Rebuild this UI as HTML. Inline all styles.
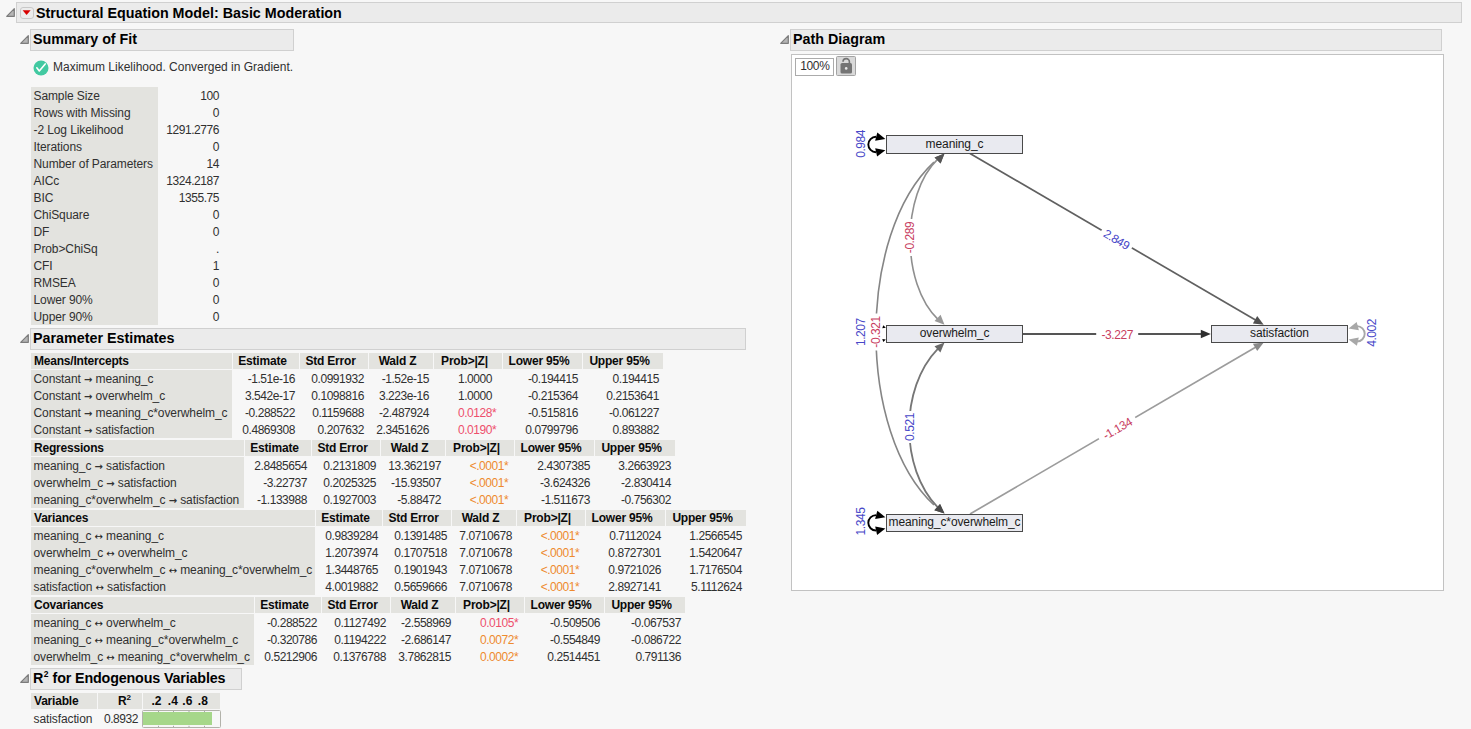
<!DOCTYPE html>
<html><head><meta charset="utf-8"><title>Structural Equation Model: Basic Moderation</title>
<style>
*{margin:0;padding:0;box-sizing:content-box}
html,body{width:1471px;height:729px;overflow:hidden;background:#f7f7f7}
body{position:relative;font-family:"Liberation Sans",Arial,sans-serif;color:#303030}
.r{position:absolute}
.t{position:absolute;font-size:12px;line-height:17px;white-space:nowrap;letter-spacing:-0.1px}
.n{letter-spacing:-0.45px}
.b{font-weight:bold;letter-spacing:-0.2px;color:#0a0a0a}
.ra{text-align:right}
.ca{text-align:center}
.h{position:absolute;font-size:14.3px;font-weight:bold;line-height:21px;white-space:nowrap;color:#000}
.ar{font-family:"DejaVu Sans",sans-serif;font-size:10px;font-weight:bold;position:relative;top:-0.5px;color:#333}
.da{font-weight:normal;color:#222}
.st{position:absolute;left:100%;letter-spacing:0}
.sup{font-size:8.5px;position:relative;top:-5.5px;margin:0 0.5px 0 0.5px}
.sup2{font-size:8px;position:relative;top:-5.5px}
.dl{font-size:12px;letter-spacing:-0.45px;font-family:"Liberation Sans",Arial,sans-serif}
.nl{font-size:12px;letter-spacing:-0.1px;font-family:"Liberation Sans",Arial,sans-serif;fill:#1a1a1a}
</style></head>
<body>
<div class="r" style="left:16px;top:2px;width:1444px;height:19px;background:#ebebeb;border:1px solid #d0d0d0"></div>
<div class="h" style="left:36px;top:3px">Structural Equation Model: Basic Moderation</div>
<svg class="r" style="left:6px;top:8px" width="9" height="9"><path d="M8.3,0.7 L8.3,8.3 L0.7,8.3 Z" fill="#b5b5b5" stroke="#7c7c7c" stroke-width="1.2" stroke-linejoin="round"/></svg>
<svg class="r" style="left:20px;top:7px" width="14" height="12"><rect x="0.5" y="0.5" width="13" height="11" rx="2.5" fill="#ececec" stroke="#c8c8c8"/><path d="M2.6,3.2 L10.6,3.2 L6.6,8 Z" fill="#d80000"/></svg>
<div class="r" style="left:30px;top:29px;width:262px;height:20px;background:#ebebeb;border:1px solid #d0d0d0"></div>
<div class="h" style="left:33px;top:28.7px">Summary of Fit</div>
<svg class="r" style="left:20px;top:35px" width="9" height="9"><path d="M8.3,0.7 L8.3,8.3 L0.7,8.3 Z" fill="#b5b5b5" stroke="#7c7c7c" stroke-width="1.2" stroke-linejoin="round"/></svg>
<svg class="r" style="left:33px;top:60px" width="16" height="16"><circle cx="8" cy="8" r="7.5" fill="#42c9a1"/><path d="M3.8,7.8 L6.3,11 L12.2,3.9" fill="none" stroke="#fff" stroke-width="1.6" stroke-linecap="round" stroke-linejoin="round"/></svg>
<div class="t" style="left:53px;top:59px;letter-spacing:0">Maximum Likelihood. Converged in Gradient.</div>
<div class="r" style="left:31px;top:87px;width:127px;height:238px;background:#e3e3df;"></div>
<div class="t" style="left:33.5px;top:88px;">Sample Size</div>
<div class="t n ra" style="right:1252px;top:88px;">100</div>
<div class="t" style="left:33.5px;top:105px;">Rows with Missing</div>
<div class="t n ra" style="right:1252px;top:105px;">0</div>
<div class="t" style="left:33.5px;top:122px;">-2 Log Likelihood</div>
<div class="t n ra" style="right:1252px;top:122px;">1291.2776</div>
<div class="t" style="left:33.5px;top:139px;">Iterations</div>
<div class="t n ra" style="right:1252px;top:139px;">0</div>
<div class="t" style="left:33.5px;top:156px;">Number of Parameters</div>
<div class="t n ra" style="right:1252px;top:156px;">14</div>
<div class="t" style="left:33.5px;top:173px;">AICc</div>
<div class="t n ra" style="right:1252px;top:173px;">1324.2187</div>
<div class="t" style="left:33.5px;top:190px;">BIC</div>
<div class="t n ra" style="right:1252px;top:190px;">1355.75</div>
<div class="t" style="left:33.5px;top:207px;">ChiSquare</div>
<div class="t n ra" style="right:1252px;top:207px;">0</div>
<div class="t" style="left:33.5px;top:224px;">DF</div>
<div class="t n ra" style="right:1252px;top:224px;">0</div>
<div class="t" style="left:33.5px;top:241px;">Prob&gt;ChiSq</div>
<div class="t n ra" style="right:1252px;top:241px;">.</div>
<div class="t" style="left:33.5px;top:258px;">CFI</div>
<div class="t n ra" style="right:1252px;top:258px;">1</div>
<div class="t" style="left:33.5px;top:275px;">RMSEA</div>
<div class="t n ra" style="right:1252px;top:275px;">0</div>
<div class="t" style="left:33.5px;top:292px;">Lower 90%</div>
<div class="t n ra" style="right:1252px;top:292px;">0</div>
<div class="t" style="left:33.5px;top:309px;">Upper 90%</div>
<div class="t n ra" style="right:1252px;top:309px;">0</div>
<div class="r" style="left:30px;top:328px;width:714px;height:20px;background:#ebebeb;border:1px solid #d0d0d0"></div>
<div class="h" style="left:33px;top:327.7px">Parameter Estimates</div>
<svg class="r" style="left:20px;top:334px" width="9" height="9"><path d="M8.3,0.7 L8.3,8.3 L0.7,8.3 Z" fill="#b5b5b5" stroke="#7c7c7c" stroke-width="1.2" stroke-linejoin="round"/></svg>
<div class="r" style="left:31px;top:353px;width:201px;height:16px;background:#e3e3df;"></div>
<div class="t b" style="left:34px;top:353px;">Means/Intercepts</div>
<div class="r" style="left:233px;top:353px;width:66px;height:16px;background:#e3e3df;"></div>
<div class="t b ca" style="left:212.5px;width:100px;top:353px;">Estimate</div>
<div class="r" style="left:300px;top:353px;width:68px;height:16px;background:#e3e3df;"></div>
<div class="t b ca" style="left:280.5px;width:100px;top:353px;">Std Error</div>
<div class="r" style="left:369px;top:353px;width:64px;height:16px;background:#e3e3df;"></div>
<div class="t b ca" style="left:347.5px;width:100px;top:353px;">Wald Z</div>
<div class="r" style="left:434px;top:353px;width:68px;height:16px;background:#e3e3df;"></div>
<div class="t b ca" style="left:414.5px;width:100px;top:353px;">Prob&gt;|Z|</div>
<div class="r" style="left:503px;top:353px;width:79px;height:16px;background:#e3e3df;"></div>
<div class="t b ca" style="left:489.0px;width:100px;top:353px;">Lower 95%</div>
<div class="r" style="left:583px;top:353px;width:80px;height:16px;background:#e3e3df;"></div>
<div class="t b ca" style="left:569.5px;width:100px;top:353px;">Upper 95%</div>
<div class="r" style="left:31px;top:370px;width:201px;height:68px;background:#e3e3df;"></div>
<div class="t" style="left:33.5px;top:371px;">Constant <span class="ar">→</span> meaning_c</div>
<div class="t n ra" style="right:1176px;top:371px;">-1.51e-16</div>
<div class="t n ra" style="right:1107px;top:371px;">0.0991932</div>
<div class="t n ra" style="right:1042px;top:371px;">-1.52e-15</div>
<div class="t n ra" style="right:979px;top:371px;">1.0000</div>
<div class="t n ra" style="right:893px;top:371px;">-0.194415</div>
<div class="t n ra" style="right:812px;top:371px;">0.194415</div>
<div class="t" style="left:33.5px;top:388px;">Constant <span class="ar">→</span> overwhelm_c</div>
<div class="t n ra" style="right:1176px;top:388px;">3.542e-17</div>
<div class="t n ra" style="right:1107px;top:388px;">0.1098816</div>
<div class="t n ra" style="right:1042px;top:388px;">3.223e-16</div>
<div class="t n ra" style="right:979px;top:388px;">1.0000</div>
<div class="t n ra" style="right:893px;top:388px;">-0.215364</div>
<div class="t n ra" style="right:812px;top:388px;">0.2153641</div>
<div class="t" style="left:33.5px;top:405px;">Constant <span class="ar">→</span> meaning_c*overwhelm_c</div>
<div class="t n ra" style="right:1176px;top:405px;">-0.288522</div>
<div class="t n ra" style="right:1107px;top:405px;">0.1159688</div>
<div class="t n ra" style="right:1042px;top:405px;">-2.487924</div>
<div class="t n ra" style="right:979px;top:405px;color:#ee4f6c;">0.0128<span class="st">*</span></div>
<div class="t n ra" style="right:893px;top:405px;">-0.515816</div>
<div class="t n ra" style="right:812px;top:405px;">-0.061227</div>
<div class="t" style="left:33.5px;top:422px;">Constant <span class="ar">→</span> satisfaction</div>
<div class="t n ra" style="right:1176px;top:422px;">0.4869308</div>
<div class="t n ra" style="right:1107px;top:422px;">0.207632</div>
<div class="t n ra" style="right:1042px;top:422px;">2.3451626</div>
<div class="t n ra" style="right:979px;top:422px;color:#ee4f6c;">0.0190<span class="st">*</span></div>
<div class="t n ra" style="right:893px;top:422px;">0.0799796</div>
<div class="t n ra" style="right:812px;top:422px;">0.893882</div>
<div class="r" style="left:31px;top:440px;width:213px;height:16px;background:#e3e3df;"></div>
<div class="t b" style="left:34px;top:440px;">Regressions</div>
<div class="r" style="left:245px;top:440px;width:66px;height:16px;background:#e3e3df;"></div>
<div class="t b ca" style="left:224.5px;width:100px;top:440px;">Estimate</div>
<div class="r" style="left:312px;top:440px;width:68px;height:16px;background:#e3e3df;"></div>
<div class="t b ca" style="left:292.5px;width:100px;top:440px;">Std Error</div>
<div class="r" style="left:381px;top:440px;width:64px;height:16px;background:#e3e3df;"></div>
<div class="t b ca" style="left:359.5px;width:100px;top:440px;">Wald Z</div>
<div class="r" style="left:446px;top:440px;width:68px;height:16px;background:#e3e3df;"></div>
<div class="t b ca" style="left:426.5px;width:100px;top:440px;">Prob&gt;|Z|</div>
<div class="r" style="left:515px;top:440px;width:79px;height:16px;background:#e3e3df;"></div>
<div class="t b ca" style="left:501.0px;width:100px;top:440px;">Lower 95%</div>
<div class="r" style="left:595px;top:440px;width:80px;height:16px;background:#e3e3df;"></div>
<div class="t b ca" style="left:581.5px;width:100px;top:440px;">Upper 95%</div>
<div class="r" style="left:31px;top:457px;width:213px;height:51px;background:#e3e3df;"></div>
<div class="t" style="left:33.5px;top:458px;">meaning_c <span class="ar">→</span> satisfaction</div>
<div class="t n ra" style="right:1164px;top:458px;">2.8485654</div>
<div class="t n ra" style="right:1095px;top:458px;">0.2131809</div>
<div class="t n ra" style="right:1030px;top:458px;">13.362197</div>
<div class="t n ra" style="right:967px;top:458px;color:#ee8a2e;">&lt;.0001<span class="st">*</span></div>
<div class="t n ra" style="right:881px;top:458px;">2.4307385</div>
<div class="t n ra" style="right:800px;top:458px;">3.2663923</div>
<div class="t" style="left:33.5px;top:475px;">overwhelm_c <span class="ar">→</span> satisfaction</div>
<div class="t n ra" style="right:1164px;top:475px;">-3.22737</div>
<div class="t n ra" style="right:1095px;top:475px;">0.2025325</div>
<div class="t n ra" style="right:1030px;top:475px;">-15.93507</div>
<div class="t n ra" style="right:967px;top:475px;color:#ee8a2e;">&lt;.0001<span class="st">*</span></div>
<div class="t n ra" style="right:881px;top:475px;">-3.624326</div>
<div class="t n ra" style="right:800px;top:475px;">-2.830414</div>
<div class="t" style="left:33.5px;top:492px;">meaning_c*overwhelm_c <span class="ar">→</span> satisfaction</div>
<div class="t n ra" style="right:1164px;top:492px;">-1.133988</div>
<div class="t n ra" style="right:1095px;top:492px;">0.1927003</div>
<div class="t n ra" style="right:1030px;top:492px;">-5.88472</div>
<div class="t n ra" style="right:967px;top:492px;color:#ee8a2e;">&lt;.0001<span class="st">*</span></div>
<div class="t n ra" style="right:881px;top:492px;">-1.511673</div>
<div class="t n ra" style="right:800px;top:492px;">-0.756302</div>
<div class="r" style="left:31px;top:510px;width:284px;height:16px;background:#e3e3df;"></div>
<div class="t b" style="left:34px;top:510px;">Variances</div>
<div class="r" style="left:316px;top:510px;width:66px;height:16px;background:#e3e3df;"></div>
<div class="t b ca" style="left:295.5px;width:100px;top:510px;">Estimate</div>
<div class="r" style="left:383px;top:510px;width:68px;height:16px;background:#e3e3df;"></div>
<div class="t b ca" style="left:363.5px;width:100px;top:510px;">Std Error</div>
<div class="r" style="left:452px;top:510px;width:64px;height:16px;background:#e3e3df;"></div>
<div class="t b ca" style="left:430.5px;width:100px;top:510px;">Wald Z</div>
<div class="r" style="left:517px;top:510px;width:68px;height:16px;background:#e3e3df;"></div>
<div class="t b ca" style="left:497.5px;width:100px;top:510px;">Prob&gt;|Z|</div>
<div class="r" style="left:586px;top:510px;width:79px;height:16px;background:#e3e3df;"></div>
<div class="t b ca" style="left:572.0px;width:100px;top:510px;">Lower 95%</div>
<div class="r" style="left:666px;top:510px;width:80px;height:16px;background:#e3e3df;"></div>
<div class="t b ca" style="left:652.5px;width:100px;top:510px;">Upper 95%</div>
<div class="r" style="left:31px;top:527px;width:284px;height:68px;background:#e3e3df;"></div>
<div class="t" style="left:33.5px;top:528px;">meaning_c <span class="ar da">↔</span> meaning_c</div>
<div class="t n ra" style="right:1093px;top:528px;">0.9839284</div>
<div class="t n ra" style="right:1024px;top:528px;">0.1391485</div>
<div class="t n ra" style="right:959px;top:528px;">7.0710678</div>
<div class="t n ra" style="right:896px;top:528px;color:#ee8a2e;">&lt;.0001<span class="st">*</span></div>
<div class="t n ra" style="right:810px;top:528px;">0.7112024</div>
<div class="t n ra" style="right:729px;top:528px;">1.2566545</div>
<div class="t" style="left:33.5px;top:545px;">overwhelm_c <span class="ar da">↔</span> overwhelm_c</div>
<div class="t n ra" style="right:1093px;top:545px;">1.2073974</div>
<div class="t n ra" style="right:1024px;top:545px;">0.1707518</div>
<div class="t n ra" style="right:959px;top:545px;">7.0710678</div>
<div class="t n ra" style="right:896px;top:545px;color:#ee8a2e;">&lt;.0001<span class="st">*</span></div>
<div class="t n ra" style="right:810px;top:545px;">0.8727301</div>
<div class="t n ra" style="right:729px;top:545px;">1.5420647</div>
<div class="t" style="left:33.5px;top:562px;">meaning_c*overwhelm_c <span class="ar da">↔</span> meaning_c*overwhelm_c</div>
<div class="t n ra" style="right:1093px;top:562px;">1.3448765</div>
<div class="t n ra" style="right:1024px;top:562px;">0.1901943</div>
<div class="t n ra" style="right:959px;top:562px;">7.0710678</div>
<div class="t n ra" style="right:896px;top:562px;color:#ee8a2e;">&lt;.0001<span class="st">*</span></div>
<div class="t n ra" style="right:810px;top:562px;">0.9721026</div>
<div class="t n ra" style="right:729px;top:562px;">1.7176504</div>
<div class="t" style="left:33.5px;top:579px;">satisfaction <span class="ar da">↔</span> satisfaction</div>
<div class="t n ra" style="right:1093px;top:579px;">4.0019882</div>
<div class="t n ra" style="right:1024px;top:579px;">0.5659666</div>
<div class="t n ra" style="right:959px;top:579px;">7.0710678</div>
<div class="t n ra" style="right:896px;top:579px;color:#ee8a2e;">&lt;.0001<span class="st">*</span></div>
<div class="t n ra" style="right:810px;top:579px;">2.8927141</div>
<div class="t n ra" style="right:729px;top:579px;">5.1112624</div>
<div class="r" style="left:31px;top:597px;width:223px;height:16px;background:#e3e3df;"></div>
<div class="t b" style="left:34px;top:597px;">Covariances</div>
<div class="r" style="left:255px;top:597px;width:66px;height:16px;background:#e3e3df;"></div>
<div class="t b ca" style="left:234.5px;width:100px;top:597px;">Estimate</div>
<div class="r" style="left:322px;top:597px;width:68px;height:16px;background:#e3e3df;"></div>
<div class="t b ca" style="left:302.5px;width:100px;top:597px;">Std Error</div>
<div class="r" style="left:391px;top:597px;width:64px;height:16px;background:#e3e3df;"></div>
<div class="t b ca" style="left:369.5px;width:100px;top:597px;">Wald Z</div>
<div class="r" style="left:456px;top:597px;width:68px;height:16px;background:#e3e3df;"></div>
<div class="t b ca" style="left:436.5px;width:100px;top:597px;">Prob&gt;|Z|</div>
<div class="r" style="left:525px;top:597px;width:79px;height:16px;background:#e3e3df;"></div>
<div class="t b ca" style="left:511.0px;width:100px;top:597px;">Lower 95%</div>
<div class="r" style="left:605px;top:597px;width:80px;height:16px;background:#e3e3df;"></div>
<div class="t b ca" style="left:591.5px;width:100px;top:597px;">Upper 95%</div>
<div class="r" style="left:31px;top:614px;width:223px;height:51px;background:#e3e3df;"></div>
<div class="t" style="left:33.5px;top:615px;">meaning_c <span class="ar da">↔</span> overwhelm_c</div>
<div class="t n ra" style="right:1154px;top:615px;">-0.288522</div>
<div class="t n ra" style="right:1085px;top:615px;">0.1127492</div>
<div class="t n ra" style="right:1020px;top:615px;">-2.558969</div>
<div class="t n ra" style="right:957px;top:615px;color:#ee4f6c;">0.0105<span class="st">*</span></div>
<div class="t n ra" style="right:871px;top:615px;">-0.509506</div>
<div class="t n ra" style="right:790px;top:615px;">-0.067537</div>
<div class="t" style="left:33.5px;top:632px;">meaning_c <span class="ar da">↔</span> meaning_c*overwhelm_c</div>
<div class="t n ra" style="right:1154px;top:632px;">-0.320786</div>
<div class="t n ra" style="right:1085px;top:632px;">0.1194222</div>
<div class="t n ra" style="right:1020px;top:632px;">-2.686147</div>
<div class="t n ra" style="right:957px;top:632px;color:#ee8a2e;">0.0072<span class="st">*</span></div>
<div class="t n ra" style="right:871px;top:632px;">-0.554849</div>
<div class="t n ra" style="right:790px;top:632px;">-0.086722</div>
<div class="t" style="left:33.5px;top:649px;">overwhelm_c <span class="ar da">↔</span> meaning_c*overwhelm_c</div>
<div class="t n ra" style="right:1154px;top:649px;">0.5212906</div>
<div class="t n ra" style="right:1085px;top:649px;">0.1376788</div>
<div class="t n ra" style="right:1020px;top:649px;">3.7862815</div>
<div class="t n ra" style="right:957px;top:649px;color:#ee8a2e;">0.0002<span class="st">*</span></div>
<div class="t n ra" style="right:871px;top:649px;">0.2514451</div>
<div class="t n ra" style="right:790px;top:649px;">0.791136</div>
<div class="r" style="left:30px;top:668px;width:210px;height:20px;background:#ebebeb;border:1px solid #d0d0d0"></div>
<div class="h"  style="letter-spacing:-0.15px;left:33px;top:667.7px">R<span class="sup">2</span> for Endogenous Variables</div>
<svg class="r" style="left:20px;top:674px" width="9" height="9"><path d="M8.3,0.7 L8.3,8.3 L0.7,8.3 Z" fill="#b5b5b5" stroke="#7c7c7c" stroke-width="1.2" stroke-linejoin="round"/></svg>
<div class="r" style="left:31px;top:693px;width:66px;height:16px;background:#e3e3df;"></div>
<div class="r" style="left:98px;top:693px;width:44px;height:16px;background:#e3e3df;"></div>
<div class="r" style="left:143px;top:693px;width:77px;height:16px;background:#e3e3df;"></div>
<div class="t b" style="left:34px;top:693px;">Variable</div>
<div class="t b" style="left:118px;top:693px;">R<span class="sup2">2</span></div>
<div class="t b" style="left:151.5px;top:693px;letter-spacing:0">.2</div>
<div class="t b" style="left:167.8px;top:693px;letter-spacing:0">.4</div>
<div class="t b" style="left:182.3px;top:693px;letter-spacing:0">.6</div>
<div class="t b" style="left:197.8px;top:693px;letter-spacing:0">.8</div>
<div class="t" style="left:33.5px;top:711px;">satisfaction</div>
<div class="t n ra" style="right:1333px;top:711px;">0.8932</div>
<svg class="r" style="left:142px;top:710px" width="79" height="18"><rect x="0.5" y="0.5" width="78" height="17" rx="1" fill="#f7f7f7" stroke="#b2b2aa"/><rect x="1" y="2" width="69" height="13" fill="#a6d78a"/><path d="M16.5,1 v1.2 M16.5,15.8 v1.2" stroke="#a8a8a8" stroke-width="1"/><path d="M31.5,1 v1.2 M31.5,15.8 v1.2" stroke="#a8a8a8" stroke-width="1"/><path d="M47,1 v1.2 M47,15.8 v1.2" stroke="#a8a8a8" stroke-width="1"/><path d="M62.5,1 v1.2 M62.5,15.8 v1.2" stroke="#a8a8a8" stroke-width="1"/></svg>
<div class="r" style="left:790px;top:29px;width:650px;height:20px;background:#ebebeb;border:1px solid #d0d0d0"></div>
<div class="h" style="left:793px;top:28.7px">Path Diagram</div>
<svg class="r" style="left:780px;top:35px" width="9" height="9"><path d="M8.3,0.7 L8.3,8.3 L0.7,8.3 Z" fill="#b5b5b5" stroke="#7c7c7c" stroke-width="1.2" stroke-linejoin="round"/></svg>
<div class="r" style="left:791px;top:54px;width:651px;height:535px;background:#fff;border:1px solid #c2c2c2"></div>
<div class="r" style="left:795px;top:58px;width:37px;height:16px;background:#fff;border:1px solid #ababab"></div>
<div class="t n" style="left:800.2px;top:58.2px;letter-spacing:-0.35px">100%</div>
<svg class="r" style="left:836px;top:56px" width="20" height="20"><rect x="0.5" y="0.5" width="19" height="19" rx="1" fill="#d9d9d9" stroke="#a3a3a3"/><path d="M7,5.8 A3.2,3.2 0 0 1 13.4,5.8 V8" fill="none" stroke="#747474" stroke-width="1.6"/><rect x="4.5" y="7" width="11.5" height="10.5" rx="1.6" fill="#747474"/><circle cx="10.2" cy="12.4" r="1.3" fill="#e8e8e8"/></svg>
<svg class="r" style="left:0;top:0" width="1471" height="729"><line x1="970" y1="153.5" x2="1257.65" y2="321.27" stroke="#606060" stroke-width="1.7"/><path d="M1263.70,324.80 L1252.92,323.43 L1257.20,316.09 Z" fill="#505050"/><line x1="1022" y1="334" x2="1203.80" y2="334.00" stroke="#555" stroke-width="1.9"/><path d="M1210.80,334.00 L1200.80,338.25 L1200.80,329.75 Z" fill="#2e2e2e"/><line x1="970" y1="514" x2="1257.66" y2="345.93" stroke="#9c9c9c" stroke-width="1.7"/><path d="M1263.70,342.40 L1257.21,351.11 L1252.92,343.78 Z" fill="#8a8a8a"/><path d="M933.97,162.11 C856.61,233.86 856.61,433.24 933.97,504.99" fill="none" stroke="#858585" stroke-width="1.6"/><path d="M944.50,153.50 L940.58,163.43 L934.57,157.42 Z" fill="#555"/><path d="M944.50,513.60 L934.37,510.20 L940.06,503.88 Z" fill="#555"/><path d="M937.97,158.92 C900.88,194.55 900.88,283.75 937.97,319.38" fill="none" stroke="#8f8f8f" stroke-width="1.6"/><path d="M944.50,153.50 L940.58,163.43 L934.57,157.42 Z" fill="#555"/><path d="M944.50,324.80 L934.57,320.88 L940.58,314.87 Z" fill="#999"/><path d="M937.79,348.76 C899.64,388.10 899.64,468.10 937.79,507.44" fill="none" stroke="#767676" stroke-width="1.8"/><path d="M944.50,342.60 L940.40,352.46 L934.50,346.35 Z" fill="#6a6a6a"/><path d="M944.50,513.60 L934.37,510.20 L940.06,503.88 Z" fill="#4a4a4a"/><path d="M876,136.8 A7.7,7.7 0 0 0 876,152.2" fill="none" stroke="#000" stroke-width="1.9"/><path d="M885.40,139.00 L875.12,140.65 L877.32,132.44 Z" fill="#000"/><path d="M885.40,150.30 L877.10,156.58 L875.19,148.30 Z" fill="#000"/><path d="M876,515.0999999999999 A7.7,7.7 0 0 0 876,530.5" fill="none" stroke="#000" stroke-width="1.9"/><path d="M885.40,517.30 L875.12,518.95 L877.32,510.74 Z" fill="#000"/><path d="M885.40,528.60 L877.10,534.88 L875.19,526.60 Z" fill="#000"/><path d="M1357,326.1 A7.7,7.7 0 0 1 1357,341.5" fill="none" stroke="#a8a8a8" stroke-width="1.9"/><path d="M1348.60,328.50 L1356.68,321.94 L1358.88,330.15 Z" fill="#a8a8a8"/><path d="M1348.60,339.40 L1358.81,337.40 L1356.90,345.68 Z" fill="#a8a8a8"/><path d="M885.80,327.80 L882.25,328.21 L883.34,325.20 Z" fill="#000"/><path d="M885.80,339.40 L883.34,342.00 L882.25,338.99 Z" fill="#000"/><g transform="translate(1116.6,239.3) rotate(30.4)"><rect x="-17.5" y="-6.5" width="35" height="13" fill="#fff"/><text x="0" y="4.4" text-anchor="middle" fill="#4848c8" class="dl">2.849</text></g><g transform="translate(1117.2,333.8) rotate(0)"><rect x="-21.0" y="-6.5" width="42" height="13" fill="#fff"/><text x="0" y="5.0" text-anchor="middle" fill="#c8405f" class="dl">-3.227</text></g><g transform="translate(1117.3,428.4) rotate(-30.4)"><rect x="-21.0" y="-6.5" width="42" height="13" fill="#fff"/><text x="0" y="4.4" text-anchor="middle" fill="#c8405f" class="dl">-1.134</text></g><g transform="translate(910,237.5) rotate(-90)"><rect x="-18.5" y="-6.0" width="37" height="12" fill="#fff"/><text x="0" y="4.4" text-anchor="middle" fill="#c8405f" class="dl">-0.289</text></g><g transform="translate(910,427) rotate(-90)"><rect x="-16.0" y="-6.0" width="32" height="12" fill="#fff"/><text x="0" y="4.4" text-anchor="middle" fill="#4848c8" class="dl">0.521</text></g><g transform="translate(876,332) rotate(-90)"><rect x="-18.5" y="-5.0" width="37" height="10" fill="#fff"/><text x="0" y="4.4" text-anchor="middle" fill="#c8405f" class="dl">-0.321</text></g><g transform="translate(861,143.9) rotate(-90)"><rect x="-15.0" y="-5.0" width="30" height="10" fill="#fff"/><text x="0" y="4.4" text-anchor="middle" fill="#4848c8" class="dl">0.984</text></g><g transform="translate(861,332.2) rotate(-90)"><rect x="-15.0" y="-5.0" width="30" height="10" fill="#fff"/><text x="0" y="4.4" text-anchor="middle" fill="#4848c8" class="dl">1.207</text></g><g transform="translate(861,521.5) rotate(-90)"><rect x="-15.0" y="-5.0" width="30" height="10" fill="#fff"/><text x="0" y="4.4" text-anchor="middle" fill="#4848c8" class="dl">1.345</text></g><g transform="translate(1371.3,332.9) rotate(-90)"><rect x="-15.0" y="-5.0" width="30" height="10" fill="#fff"/><text x="0" y="4.4" text-anchor="middle" fill="#4848c8" class="dl">4.002</text></g><rect x="886.5" y="135.5" width="136" height="18" fill="#e9eaf0" stroke="#4a4a4a" stroke-width="1"/><text x="954.5" y="147.8" text-anchor="middle" class="nl">meaning_c</text><rect x="886.5" y="325.5" width="136" height="17" fill="#e9eaf0" stroke="#4a4a4a" stroke-width="1"/><text x="954.5" y="336.8" text-anchor="middle" class="nl">overwhelm_c</text><rect x="886.5" y="514.5" width="136" height="17" fill="#e9eaf0" stroke="#4a4a4a" stroke-width="1"/><text x="954.5" y="525.8" text-anchor="middle" class="nl">meaning_c*overwhelm_c</text><rect x="1211.5" y="325.5" width="136" height="17" fill="#e9eaf0" stroke="#4a4a4a" stroke-width="1"/><text x="1279.5" y="336.8" text-anchor="middle" class="nl">satisfaction</text></svg>
</body></html>
